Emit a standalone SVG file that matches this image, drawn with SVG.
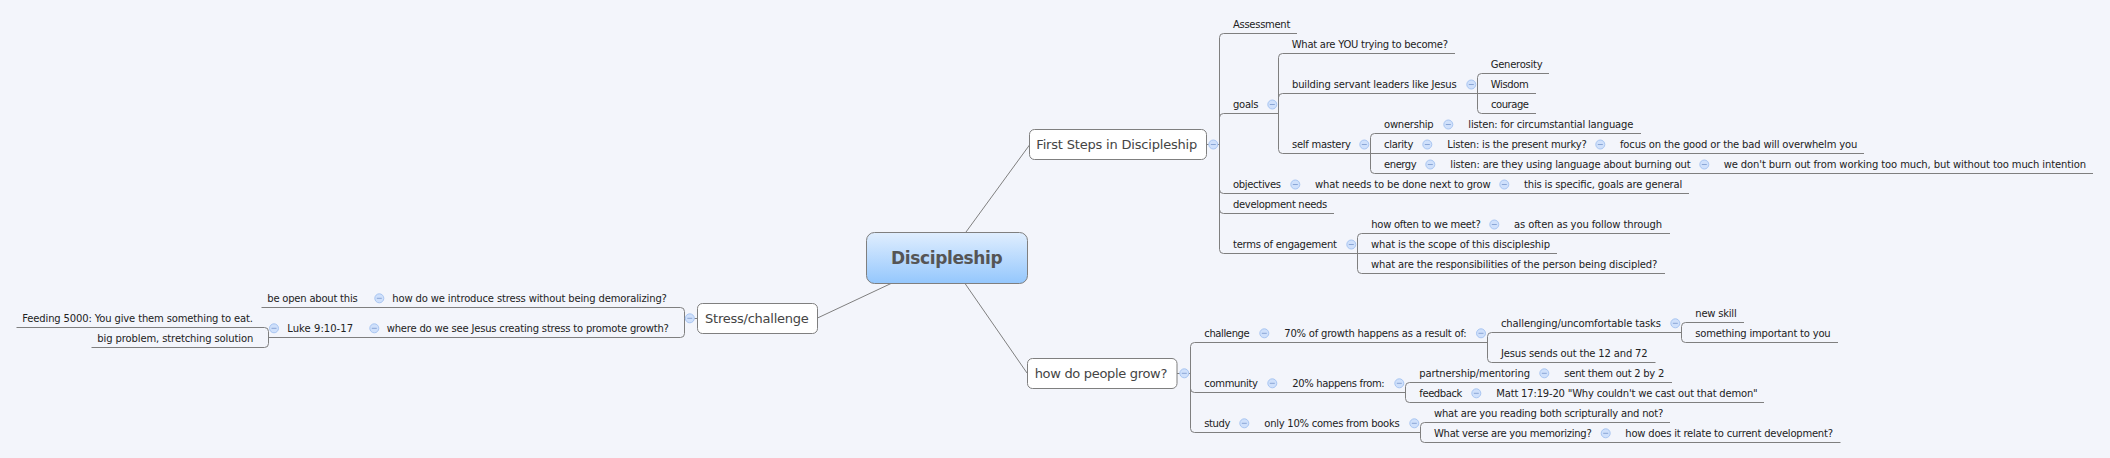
<svg xmlns="http://www.w3.org/2000/svg" width="2110" height="458" viewBox="0 0 2110 458">
<style>
text{font-family:"DejaVu Sans","Liberation Sans",sans-serif;font-size:10px;fill:#222}
.b{font-size:13px;fill:#444}
.r{font-size:17px;font-weight:bold;fill:#555}
.l{fill:none;stroke:#7f7f7f;stroke-width:1}
.n{fill:#fff;stroke:#7f7f7f;stroke-width:1}
.c{fill:#cfe0fb;stroke:#a9c6f2;stroke-width:1}
.m{stroke:#8aa6d6;stroke-width:1}
</style>
<defs>
<linearGradient id="g" x1="0" y1="0" x2="0" y2="1"><stop offset="0" stop-color="#e0eefe"/><stop offset="1" stop-color="#94c7fd"/></linearGradient>
<g id="t"><circle class="c" r="4.5"/><path class="m" d="M-2.500 0H2.500"/></g>
</defs>
<rect width="2110" height="458" fill="#f3f5fb"/>
<g id="connectors">
<path class="l" d="M966 232L1029.500 145M891 283.500L817.500 318M965 283.500L1027 373"/>
<path class="l" d="M1207 144.500H1219.500M1297 33.500H1223.500Q1219.500 33.500 1219.500 37.500V249.500Q1219.500 253.500 1223.500 253.500H1357.500M1278 113.500H1223.500Q1219.500 113.500 1219.500 117.500M1689 193.500H1223.500Q1219.500 193.500 1219.500 189.500M1334 213.500H1223.500Q1219.500 213.500 1219.500 209.500"/>
<path class="l" d="M1455 53.500H1282.500Q1278.500 53.500 1278.500 57.500V149.500Q1278.500 153.500 1282.500 153.500H1370.500M1477.500 93.500H1282.500Q1278.500 93.500 1278.500 97.500"/>
<path class="l" d="M1549 73.500H1481.500Q1477.500 73.500 1477.500 77.500V109.500Q1477.500 113.500 1481.500 113.500H1536M1477.500 93.500H1536"/>
<path class="l" d="M1641 133.500H1374.500Q1370.500 133.500 1370.500 137.500V169.500Q1370.500 173.500 1374.500 173.500H2093M1370.500 153.500H1864"/>
<path class="l" d="M1670 233.500H1361.500Q1357.500 233.500 1357.500 237.500V269.500Q1357.500 273.500 1361.500 273.500H1665M1357.500 253.500H1557"/>
<path class="l" d="M1177 373.500H1190.500M1487.500 342.500H1194.500Q1190.500 342.500 1190.500 346.500V428.500Q1190.500 432.500 1194.500 432.500H1420.500M1405.500 392.500H1194.500Q1190.500 392.500 1190.500 388.500"/>
<path class="l" d="M1681.500 332.500H1491.500Q1487.500 332.500 1487.500 336.500V358.500Q1487.500 362.500 1491.500 362.500H1655.500"/>
<path class="l" d="M1744 322.500H1685.500Q1681.500 322.500 1681.500 326.500V338.500Q1681.500 342.500 1685.500 342.500H1838"/>
<path class="l" d="M1672 382.500H1409.500Q1405.500 382.500 1405.500 386.500V398.500Q1405.500 402.500 1409.500 402.500H1764"/>
<path class="l" d="M1670 422.500H1424.500Q1420.500 422.500 1420.500 426.500V438.500Q1420.500 442.500 1424.500 442.500H1840.500"/>
<path class="l" d="M697 318.500H684.500M261.500 307.500H680.500Q684.500 307.500 684.500 311.500V333.500Q684.500 337.500 680.500 337.500H268.500"/>
<path class="l" d="M16.500 327.500H264.500Q268.500 327.500 268.500 331.500V343.500Q268.500 347.500 264.500 347.500H91.500"/>
</g>
<g id="root"><rect x="866.500" y="232.500" width="161" height="51" rx="8" stroke="#7f7f7f" fill="url(#g)"/><text class="r" x="891" y="264" textLength="111.700">Discipleship</text></g>
<g id="first-steps"><rect class="n" x="1029.500" y="129.500" width="177" height="30" rx="5"/><text class="b" x="1036.300" y="149" textLength="161">First Steps in Discipleship</text><use href="#t" x="1213.300" y="144.500"/></g>
<g id="how-grow"><rect class="n" x="1027.500" y="358.500" width="149.500" height="30" rx="5"/><text class="b" x="1034.700" y="378" textLength="132.600">how do people grow?</text><use href="#t" x="1184.300" y="373.300"/></g>
<g id="stress"><rect class="n" x="697.500" y="303.500" width="120" height="30" rx="5"/><text class="b" x="705" y="322.500" textLength="103.800">Stress/challenge</text><use href="#t" x="689.800" y="318.300"/></g>
<g id="assessment"><text x="1233" y="28" textLength="57.300">Assessment</text></g>
<g id="goals"><text x="1233" y="108" textLength="25.500">goals</text><use href="#t" x="1272.300" y="104.500"/></g>
<g id="become"><text x="1291.700" y="48" textLength="156.300">What are YOU trying to become?</text></g>
<g id="servant"><text x="1292" y="88" textLength="164.700">building servant leaders like Jesus</text><use href="#t" x="1471.300" y="84.500"/></g>
<g id="generosity"><text x="1490.700" y="68" textLength="52">Generosity</text></g>
<g id="wisdom"><text x="1490.700" y="88" textLength="38">Wisdom</text></g>
<g id="courage"><text x="1491" y="108" textLength="38">courage</text></g>
<g id="self-mastery"><text x="1292" y="148" textLength="59">self mastery</text><use href="#t" x="1364.300" y="144.500"/></g>
<g id="ownership"><text x="1384" y="128" textLength="49.700">ownership</text><use href="#t" x="1448.300" y="124.500"/><text x="1468.300" y="128" textLength="165">listen: for circumstantial language</text></g>
<g id="clarity"><text x="1384" y="148" textLength="29.300">clarity</text><use href="#t" x="1427.300" y="144.500"/><text x="1447.300" y="148" textLength="139.400">Listen: is the present murky?</text><use href="#t" x="1600.300" y="144.500"/><text x="1620" y="148" textLength="237.300">focus on the good or the bad will overwhelm you</text></g>
<g id="energy"><text x="1384" y="168" textLength="32.700">energy</text><use href="#t" x="1430.300" y="164.500"/><text x="1450.300" y="168" textLength="240.400">listen: are they using language about burning out</text><use href="#t" x="1704.300" y="164.500"/><text x="1723.700" y="168" textLength="362.300">we don't burn out from working too much, but without too much intention</text></g>
<g id="objectives"><text x="1233" y="188" textLength="48">objectives</text><use href="#t" x="1295.300" y="184.500"/><text x="1315" y="188" textLength="175.700">what needs to be done next to grow</text><use href="#t" x="1504.300" y="184.500"/><text x="1524" y="188" textLength="158.300">this is specific, goals are general</text></g>
<g id="development"><text x="1233" y="208" textLength="94.300">development needs</text></g>
<g id="terms"><text x="1233" y="248" textLength="104">terms of engagement</text><use href="#t" x="1351.300" y="244.500"/></g>
<g id="often"><text x="1371.300" y="228" textLength="109.400">how often to we meet?</text><use href="#t" x="1494.300" y="224.500"/><text x="1514" y="228" textLength="148">as often as you follow through</text></g>
<g id="scope"><text x="1371" y="248" textLength="179">what is the scope of this discipleship</text></g>
<g id="responsibilities"><text x="1371" y="268" textLength="286.300">what are the responsibilities of the person being discipled?</text></g>
<g id="challenge"><text x="1204.300" y="337" textLength="45.400">challenge</text><use href="#t" x="1264.300" y="333.300"/><text x="1284.300" y="337" textLength="182.400">70% of growth happens as a result of:</text><use href="#t" x="1481" y="333.300"/></g>
<g id="tasks"><text x="1501" y="327" textLength="160">challenging/uncomfortable tasks</text><use href="#t" x="1675.300" y="323.300"/></g>
<g id="skill"><text x="1695.300" y="317" textLength="41.400">new skill</text></g>
<g id="important"><text x="1695.300" y="337" textLength="135.400">something important to you</text></g>
<g id="jesus"><text x="1501" y="357" textLength="146.700">Jesus sends out the 12 and 72</text></g>
<g id="community"><text x="1204.300" y="387" textLength="53.700">community</text><use href="#t" x="1272.300" y="383.300"/><text x="1292.300" y="387" textLength="92.400">20% happens from:</text><use href="#t" x="1399.300" y="383.300"/></g>
<g id="partnership"><text x="1419.300" y="377" textLength="110.700">partnership/mentoring</text><use href="#t" x="1544.300" y="373.300"/><text x="1564.300" y="377" textLength="100">sent them out 2 by 2</text></g>
<g id="feedback"><text x="1419.300" y="397" textLength="43">feedback</text><use href="#t" x="1476.300" y="393.300"/><text x="1496.300" y="397" textLength="261.400">Matt 17:19-20 "Why couldn't we cast out that demon"</text></g>
<g id="study"><text x="1204.300" y="427" textLength="26">study</text><use href="#t" x="1244.300" y="423.300"/><text x="1264.300" y="427" textLength="135.400">only 10% comes from books</text><use href="#t" x="1414.300" y="423.300"/></g>
<g id="reading"><text x="1434" y="417" textLength="229.300">what are you reading both scripturally and not?</text></g>
<g id="verse"><text x="1434" y="437" textLength="157.700">What verse are you memorizing?</text><use href="#t" x="1605.700" y="433.300"/><text x="1625.300" y="437" textLength="207.700">how does it relate to current development?</text></g>
<g id="open"><text x="267.300" y="302" textLength="90.400">be open about this</text><use href="#t" x="379.300" y="298.300"/><text x="392.300" y="302" textLength="274.600">how do we introduce stress without being demoralizing?</text></g>
<g id="luke"><use href="#t" x="274" y="328.300"/><text x="287.300" y="332" textLength="65.700">Luke 9:10-17</text><use href="#t" x="374.300" y="328.300"/><text x="386.700" y="332" textLength="282.200">where do we see Jesus creating stress to promote growth?</text></g>
<g id="feeding"><text x="22.300" y="322" textLength="230.700">Feeding 5000: You give them something to eat.</text></g>
<g id="problem"><text x="97.300" y="342" textLength="156">big problem, stretching solution</text></g>
</svg>
